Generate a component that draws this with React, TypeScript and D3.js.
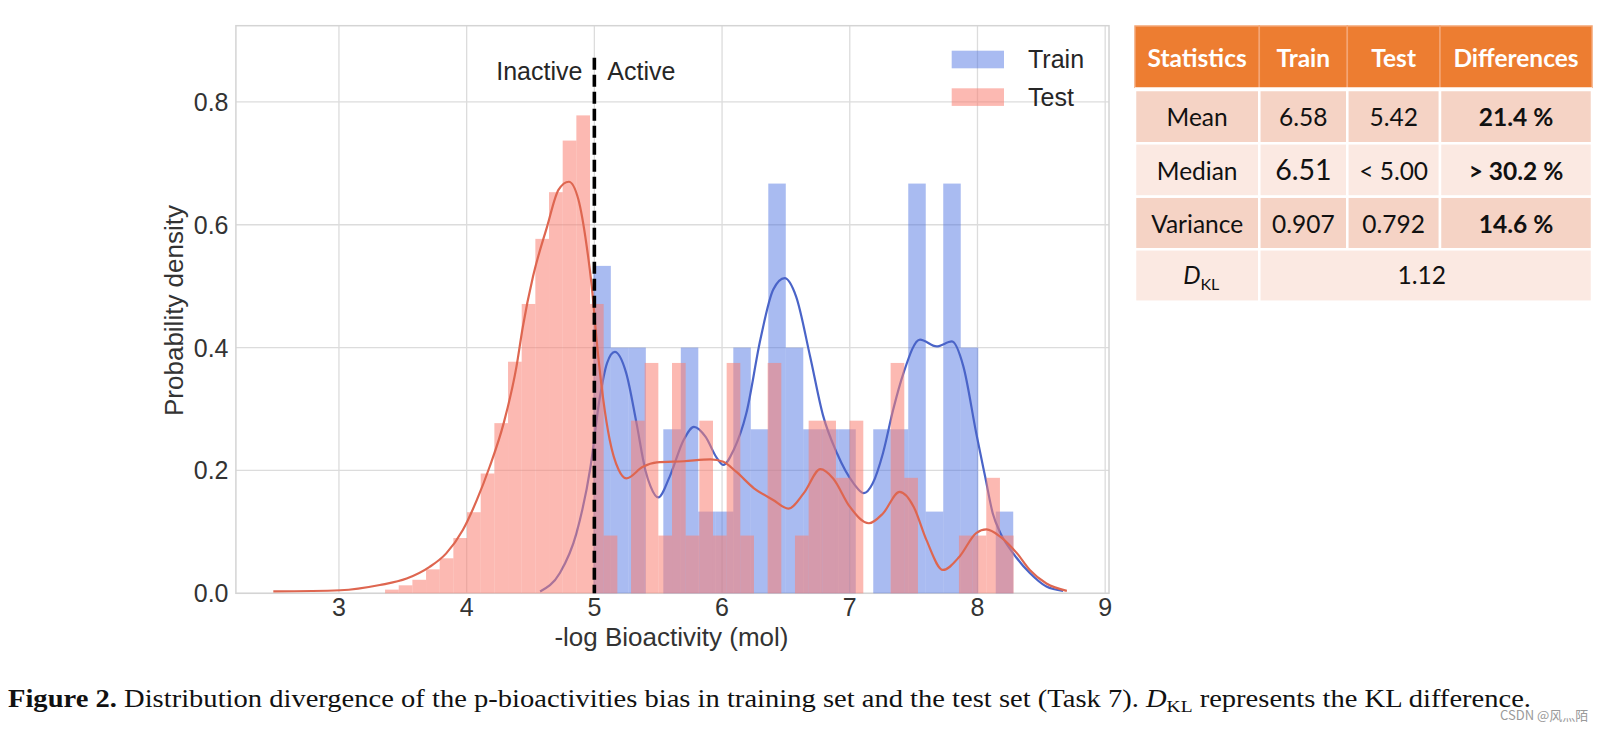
import { useRef, useEffect } from "react"
import * as d3 from "d3"

// histogram bins (bin start, density)
const trainBinWidth = 0.137
const trainBinStarts = [4.992, 5.129, 5.266, 5.403, 5.540, 5.677, 5.814, 5.951, 6.088, 6.225, 6.362, 6.499,
  6.636, 6.773, 6.910, 7.047, 7.184, 7.321, 7.458, 7.595, 7.732, 7.869, 8.006, 8.143]
const trainDensity = [0.533, 0.40, 0.40, 0, 0.267, 0.40, 0.133, 0.133, 0.40, 0.267, 0.667, 0.40,
  0.267, 0.267, 0.267, 0, 0.267, 0.267, 0.667, 0.133, 0.667, 0.40, 0, 0.133]

const testBinWidth = 0.107
const testBinStarts = [3.361, 3.468, 3.575, 3.682, 3.789, 3.896, 4.003, 4.110, 4.217, 4.324, 4.431, 4.538,
  4.645, 4.752, 4.859, 4.966, 5.073, 5.180, 5.287, 5.394, 5.501, 5.608, 5.715, 5.822, 5.929, 6.036,
  6.143, 6.250, 6.357, 6.464, 6.571, 6.678, 6.785, 6.892, 6.999, 7.106, 7.213, 7.320, 7.427, 7.534,
  7.641, 7.748, 7.855, 7.962, 8.069, 8.176]
const testDensity = [0.006, 0.013, 0.022, 0.039, 0.057, 0.090, 0.132, 0.195, 0.277, 0.377, 0.471, 0.577,
  0.653, 0.737, 0.778, 0.471, 0.094, 0, 0.281, 0.375, 0.094, 0.375, 0.094, 0.281, 0.094, 0.375,
  0.094, 0, 0.375, 0, 0.094, 0.281, 0.281, 0.188, 0.281, 0, 0, 0.375, 0.188, 0,
  0, 0, 0.094, 0.094, 0.188, 0.094]

// kde curves
const trainKdeX = [4.575, 4.73, 4.86, 4.97, 5.04, 5.10, 5.16, 5.25, 5.33, 5.40, 5.44, 5.50, 5.59, 5.70, 5.78,
  5.87, 5.96, 6.01, 6.09, 6.19, 6.30, 6.40, 6.49, 6.58, 6.69, 6.79, 6.90, 7.03, 7.11, 7.18, 7.26, 7.34,
  7.42, 7.55, 7.68, 7.80, 7.89, 7.99, 8.06, 8.12, 8.18, 8.28, 8.41, 8.54, 8.67]
const trainKdeY = [0.003, 0.033, 0.098, 0.206, 0.315, 0.375, 0.393, 0.358, 0.277, 0.200, 0.174, 0.156, 0.190,
  0.250, 0.271, 0.255, 0.220, 0.209, 0.233, 0.293, 0.413, 0.494, 0.513, 0.483, 0.385, 0.290, 0.228,
  0.179, 0.163, 0.179, 0.228, 0.299, 0.358, 0.413, 0.402, 0.410, 0.369, 0.261, 0.190, 0.130, 0.098,
  0.065, 0.033, 0.011, 0.004]

const testKdeX = [2.486, 3.01, 3.32, 3.53, 3.71, 3.84, 3.97, 4.08, 4.18, 4.29, 4.39, 4.44, 4.52, 4.63, 4.72,
  4.80, 4.875, 4.94, 4.98, 5.02, 5.07, 5.12, 5.19, 5.25, 5.38, 5.49, 5.70, 5.91, 6.01, 6.11, 6.25, 6.40,
  6.52, 6.64, 6.77, 6.87, 7.00, 7.15, 7.26, 7.39, 7.50, 7.60, 7.73, 7.86, 7.99, 8.07, 8.18, 8.31, 8.41,
  8.54, 8.70]
const testKdeY = [0.003, 0.005, 0.0135, 0.024, 0.043, 0.065, 0.103, 0.152, 0.206, 0.277, 0.369, 0.434, 0.516,
  0.597, 0.657, 0.670, 0.641, 0.565, 0.499, 0.407, 0.315, 0.250, 0.201, 0.187, 0.206, 0.213, 0.215,
  0.218, 0.214, 0.198, 0.171, 0.152, 0.138, 0.163, 0.202, 0.187, 0.141, 0.114, 0.130, 0.165, 0.141,
  0.087, 0.038, 0.060, 0.098, 0.104, 0.092, 0.065, 0.038, 0.016, 0.004]

const xTicks = [3, 4, 5, 6, 7, 8, 9]
const yTicks = [0, 0.2, 0.4, 0.6, 0.8]
const threshold = 5

// stats table
const tableHeader = ["Statistics", "Train", "Test", "Differences"]
const rowLabels = ["Mean", "Median", "Variance"]
const trainStats = ["6.58", "6.51", "0.907"]
const testStats = ["5.42", "< 5.00", "0.792"]
const diffStats = ["21.4 %", "> 30.2 %", "14.6 %"]
const klValue = "1.12"

export default function App() {
  const svgRef = useRef<SVGSVGElement>(null)
  const width = 1615
  const height = 731

  useEffect(() => {
    const svg = d3.select(svgRef.current)
    svg.selectAll("*").remove()
    svg.append("rect").attr("width", width).attr("height", height).attr("fill", "#fff")

    const plot = { left: 235.9, right: 1109, top: 25.7, bottom: 593.3 }
    const x = d3.scaleLinear().domain([2.193, 9.03]).range([plot.left, plot.right])
    const y = d3.scaleLinear().domain([0, 0.924]).range([plot.bottom, plot.top])
    const sans = "'Liberation Sans', Arial, sans-serif"

    // grid + frame
    const grid = svg.append("g").attr("stroke", "#dcdcdc").attr("stroke-width", 1.3)
    grid.selectAll(".gx").data(xTicks).enter().append("line")
      .attr("x1", d => x(d)).attr("x2", d => x(d)).attr("y1", plot.top).attr("y2", plot.bottom)
    grid.selectAll(".gy").data(yTicks).enter().append("line")
      .attr("x1", plot.left).attr("x2", plot.right).attr("y1", d => y(d)).attr("y2", d => y(d))
    svg.append("rect").attr("x", plot.left).attr("y", plot.top)
      .attr("width", plot.right - plot.left).attr("height", plot.bottom - plot.top)
      .attr("fill", "none").attr("stroke", "#d4d4d4").attr("stroke-width", 1.5)

    const line = d3.line<[number, number]>().x(d => x(d[0])).y(d => y(d[1])).curve(d3.curveMonotoneX)

    // train
    svg.append("g").selectAll("rect").data(trainBinStarts.map((s, i) => [s, trainDensity[i]]))
      .enter().append("rect")
      .attr("x", d => x(d[0])).attr("width", d => x(d[0] + trainBinWidth) - x(d[0]))
      .attr("y", d => y(d[1])).attr("height", d => y(0) - y(d[1]))
      .attr("fill", "royalblue").attr("fill-opacity", 0.45)
    svg.append("path").attr("d", line(trainKdeX.map((v, i) => [v, trainKdeY[i]]))!)
      .attr("fill", "none").attr("stroke", "#4a64c8").attr("stroke-width", 2.2)

    // test
    svg.append("g").selectAll("rect").data(testBinStarts.map((s, i) => [s, testDensity[i]]))
      .enter().append("rect")
      .attr("x", d => x(d[0])).attr("width", d => x(d[0] + testBinWidth) - x(d[0]))
      .attr("y", d => y(d[1])).attr("height", d => y(0) - y(d[1]))
      .attr("fill", "salmon").attr("fill-opacity", 0.55)
    svg.append("path").attr("d", line(testKdeX.map((v, i) => [v, testKdeY[i]]))!)
      .attr("fill", "none").attr("stroke", "#de6650").attr("stroke-width", 2.2)

    // threshold
    svg.append("line").attr("x1", x(threshold)).attr("x2", x(threshold))
      .attr("y1", y(0.872)).attr("y2", y(0))
      .attr("stroke", "#000").attr("stroke-width", 3.6).attr("stroke-dasharray", "12 5")
    svg.append("text").attr("x", x(threshold) - 12).attr("y", 80).attr("text-anchor", "end")
      .attr("font-family", sans).attr("font-size", 25).attr("fill", "#262626").text("Inactive")
    svg.append("text").attr("x", x(threshold) + 13).attr("y", 80)
      .attr("font-family", sans).attr("font-size", 25).attr("fill", "#262626").text("Active")

    // axes labels
    svg.append("g").selectAll("text").data(xTicks).enter().append("text")
      .attr("x", d => x(d)).attr("y", 615.5).attr("text-anchor", "middle")
      .attr("font-family", sans).attr("font-size", 25).attr("fill", "#333").text(d => d)
    svg.append("g").selectAll("text").data(yTicks).enter().append("text")
      .attr("x", 228.5).attr("y", d => y(d)).attr("dy", "0.36em").attr("text-anchor", "end")
      .attr("font-family", sans).attr("font-size", 25).attr("fill", "#333").text(d => d3.format(".1f")(d))
    svg.append("text").attr("x", (plot.left + plot.right) / 2 - 1).attr("y", 646).attr("text-anchor", "middle")
      .attr("font-family", sans).attr("font-size", 26).attr("fill", "#333").text("-log Bioactivity (mol)")
    svg.append("text").attr("transform", `translate(183, ${(plot.top + plot.bottom) / 2 + 1}) rotate(-90)`)
      .attr("text-anchor", "middle")
      .attr("font-family", sans).attr("font-size", 26).attr("fill", "#333").text("Probability density")

    // legend
    const legend = svg.append("g")
    const legendItems = [["Train", "royalblue", 0.45], ["Test", "salmon", 0.55]]
    legendItems.forEach((d, i) => {
      legend.append("rect").attr("x", 951.7).attr("y", 50.7 + i * 37.6).attr("width", 52.3).attr("height", 17.6)
        .attr("fill", d[1] as string).attr("fill-opacity", d[2] as number)
      legend.append("text").attr("x", 1028).attr("y", 68.3 + i * 37.6)
        .attr("font-family", sans).attr("font-size", 25).attr("fill", "#262626").text(d[0] as string)
    })

    // table
    const tFont = "Lato, 'Open Sans', sans-serif"
    const colEdges = [1135, 1259.3, 1347.3, 1440, 1592]
    const rowEdges = [26, 89.3, 143.3, 196.7, 249.3, 301.7]
    const colMid = (c: number) => (colEdges[c] + colEdges[c + 1]) / 2
    const table = svg.append("g")
    const rowFill = ["#f5d3c5", "#fbe9e2", "#f5d3c5", "#fbe9e2"]

    tableHeader.forEach((h, c) => {
      table.append("rect").attr("x", colEdges[c]).attr("y", rowEdges[0])
        .attr("width", colEdges[c + 1] - colEdges[c]).attr("height", rowEdges[1] - rowEdges[0])
        .attr("fill", "#ed7d31").attr("stroke", "#f4a574").attr("stroke-width", 1.5)
      table.append("text").attr("x", colMid(c)).attr("y", 66.5).attr("text-anchor", "middle")
        .attr("font-family", tFont).attr("font-weight", "bold").attr("font-size", 24.5)
        .attr("fill", "#fff").text(h)
    })
    const bodyRows = rowLabels.map((r, i) => [r, trainStats[i], testStats[i], diffStats[i]])
    bodyRows.forEach((row, r) => {
      row.forEach((cell, c) => {
        table.append("rect").attr("x", colEdges[c]).attr("y", rowEdges[r + 1])
          .attr("width", colEdges[c + 1] - colEdges[c]).attr("height", rowEdges[r + 2] - rowEdges[r + 1])
          .attr("fill", rowFill[r]).attr("stroke", "#fff").attr("stroke-width", 2.5)
        table.append("text").attr("x", colMid(c))
          .attr("y", (rowEdges[r + 1] + rowEdges[r + 2]) / 2 + 9.5).attr("text-anchor", "middle")
          .attr("font-family", tFont).attr("font-size", r === 1 && c === 1 ? 28.5 : 24.5)
          .attr("font-weight", c === 3 ? "bold" : "normal").attr("fill", "#111").text(cell)
      })
    })
    // KL row
    table.append("rect").attr("x", colEdges[0]).attr("y", rowEdges[4])
      .attr("width", colEdges[1] - colEdges[0]).attr("height", rowEdges[5] - rowEdges[4])
      .attr("fill", rowFill[3]).attr("stroke", "#fff").attr("stroke-width", 2.5)
    table.append("rect").attr("x", colEdges[1]).attr("y", rowEdges[4])
      .attr("width", colEdges[4] - colEdges[1]).attr("height", rowEdges[5] - rowEdges[4])
      .attr("fill", rowFill[3]).attr("stroke", "#fff").attr("stroke-width", 2.5)
    table.append("line").attr("x1", colEdges[0]).attr("x2", colEdges[4])
      .attr("y1", rowEdges[1]).attr("y2", rowEdges[1]).attr("stroke", "#fff").attr("stroke-width", 4)
    const dkl = table.append("text").attr("x", colMid(0) - 14).attr("y", 284)
      .attr("font-family", tFont).attr("font-size", 24.5).attr("fill", "#111")
    dkl.append("tspan").attr("font-style", "italic").text("D")
    dkl.append("tspan").attr("font-size", 16).attr("dy", 6).text("KL")
    table.append("text").attr("x", (colEdges[1] + colEdges[4]) / 2 - 4).attr("y", 284)
      .attr("text-anchor", "middle").attr("font-family", tFont).attr("font-size", 24.5)
      .attr("fill", "#111").text(klValue)

    // caption
    const cap = svg.append("text").attr("x", 8).attr("y", 707)
      .attr("font-family", "'Liberation Serif', serif").attr("font-size", 25).attr("fill", "#111")
      .attr("textLength", 1523).attr("lengthAdjust", "spacingAndGlyphs")
    cap.append("tspan").attr("font-weight", "bold").text("Figure 2.")
    cap.append("tspan").text(" Distribution divergence of the p-bioactivities bias in training set and the test set (Task 7). ")
    cap.append("tspan").attr("font-style", "italic").text("D")
    cap.append("tspan").attr("font-size", 17).attr("dy", 5).text("KL")
    cap.append("tspan").attr("dy", -5).text(" represents the KL difference.")

    svg.append("text").attr("x", 1500).attr("y", 720)
      .attr("font-family", "'Noto Sans CJK SC', sans-serif").attr("font-size", 13).attr("fill", "#9a9a9a")
      .text("CSDN @风灬陌")
  }, [])

  return (
    <svg ref={svgRef} width={width} height={height}
      style={{ position: "absolute", left: 0, top: 0, display: "block" }}></svg>
  )
}
